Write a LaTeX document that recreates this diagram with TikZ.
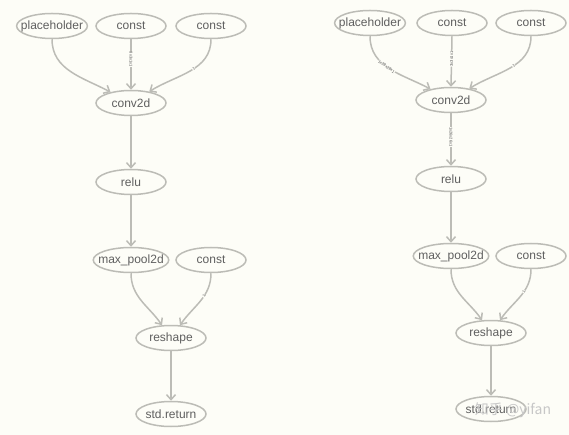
\documentclass[tikz,border=0pt]{standalone}
\usepackage{fontspec}
\setmainfont{Liberation Sans}
\newfontfamily\cjkwm{Noto Sans CJK SC}
\usetikzlibrary{arrows.meta,shapes.geometric}
\definecolor{bgc}{RGB}{253,253,247}
\definecolor{edgec}{RGB}{188,188,182}
\definecolor{txtc}{RGB}{95,95,95}
\tikzset{
  op/.style={ellipse, draw=edgec, line width=1.5pt, fill=bgc, minimum width=70pt, minimum height=25pt, inner xsep=-6pt, inner ysep=0pt, text=txtc, font=\fontsize{12}{13}\selectfont},
  flow/.style={draw=edgec, line width=1.5pt, -{Straight Barb[length=5pt,width=9pt,line width=1.5pt]}},
  shp/.style={sloped, fill=bgc, inner sep=0.3pt, text=black!70, font=\fontsize{4}{4.5}\selectfont},
}
\begin{document}
\begin{tikzpicture}[x=1pt,y=-1pt]
\useasboundingbox (0,0) rectangle (569,435);
\fill[bgc] (0,0) rectangle (569,435);
% left graph
\node[op] (lph) at (52,26) {placeholder};
\node[op] (lc1) at (131,26) {const};
\node[op] (lc2) at (211,26) {const};
\node[op] (lconv) at (131,103) {conv2d};
\node[op] (lrelu) at (131,182) {relu};
\node[op] (lpool) at (131,260) {max\_pool2d};
\node[op] (lc3) at (211,260) {const};
\node[op] (lresh) at (171,338) {reshape};
\node[op] (lret) at (171,414) {std.return};
\draw[flow] (lph.south) to[out=-90,in=152] (lconv);
\draw[flow] (lc1.south) -- node[shp,pos=0.4]{3x3x1x1} (lconv.north);
\draw[flow] (lc2.south) to[out=-90,in=32] node[shp,pos=0.45]{1} (lconv);
\draw[flow] (lconv.south) -- (lrelu.north);
\draw[flow] (lrelu.south) -- (lpool.north);
\draw[flow] (lpool.south) to[out=-90,in=125] (lresh);
\draw[flow] (lc3.south) to[out=-90,in=55] node[shp,pos=0.4]{1} (lresh);
\draw[flow] (lresh.south) -- (lret.north);
% right graph
\node[op] (rph) at (370,23) {placeholder};
\node[op] (rc1) at (452,23) {const};
\node[op] (rc2) at (531,23) {const};
\node[op] (rconv) at (451,100) {conv2d};
\node[op] (rrelu) at (451,179) {relu};
\node[op] (rpool) at (451,256) {max\_pool2d};
\node[op] (rc3) at (531,256) {const};
\node[op] (rresh) at (491,333) {reshape};
\node[op] (rret) at (491,409) {std.return};
\draw[flow] (rph.south) to[out=-90,in=152] node[shp,pos=0.45]{1x28x28x1} (rconv);
\draw[flow] (rc1.south) -- node[shp,pos=0.45]{3x3x1x1} (rconv.north);
\draw[flow] (rc2.south) to[out=-90,in=32] node[shp,pos=0.45]{1} (rconv);
\draw[flow] (rconv.south) -- node[shp,pos=0.45]{1x26x26x1} (rrelu.north);
\draw[flow] (rrelu.south) -- (rpool.north);
\draw[flow] (rpool.south) to[out=-90,in=125] (rresh);
\draw[flow] (rc3.south) to[out=-90,in=55] node[shp,pos=0.4]{1} (rresh);
\draw[flow] (rresh.south) -- (rret.north);
% watermark
\node[text=black!22, font=\cjkwm\fontsize{14}{15}\selectfont, inner sep=0pt] (wm) at (513,410) {知乎 @yifan};
\end{tikzpicture}
\end{document}
